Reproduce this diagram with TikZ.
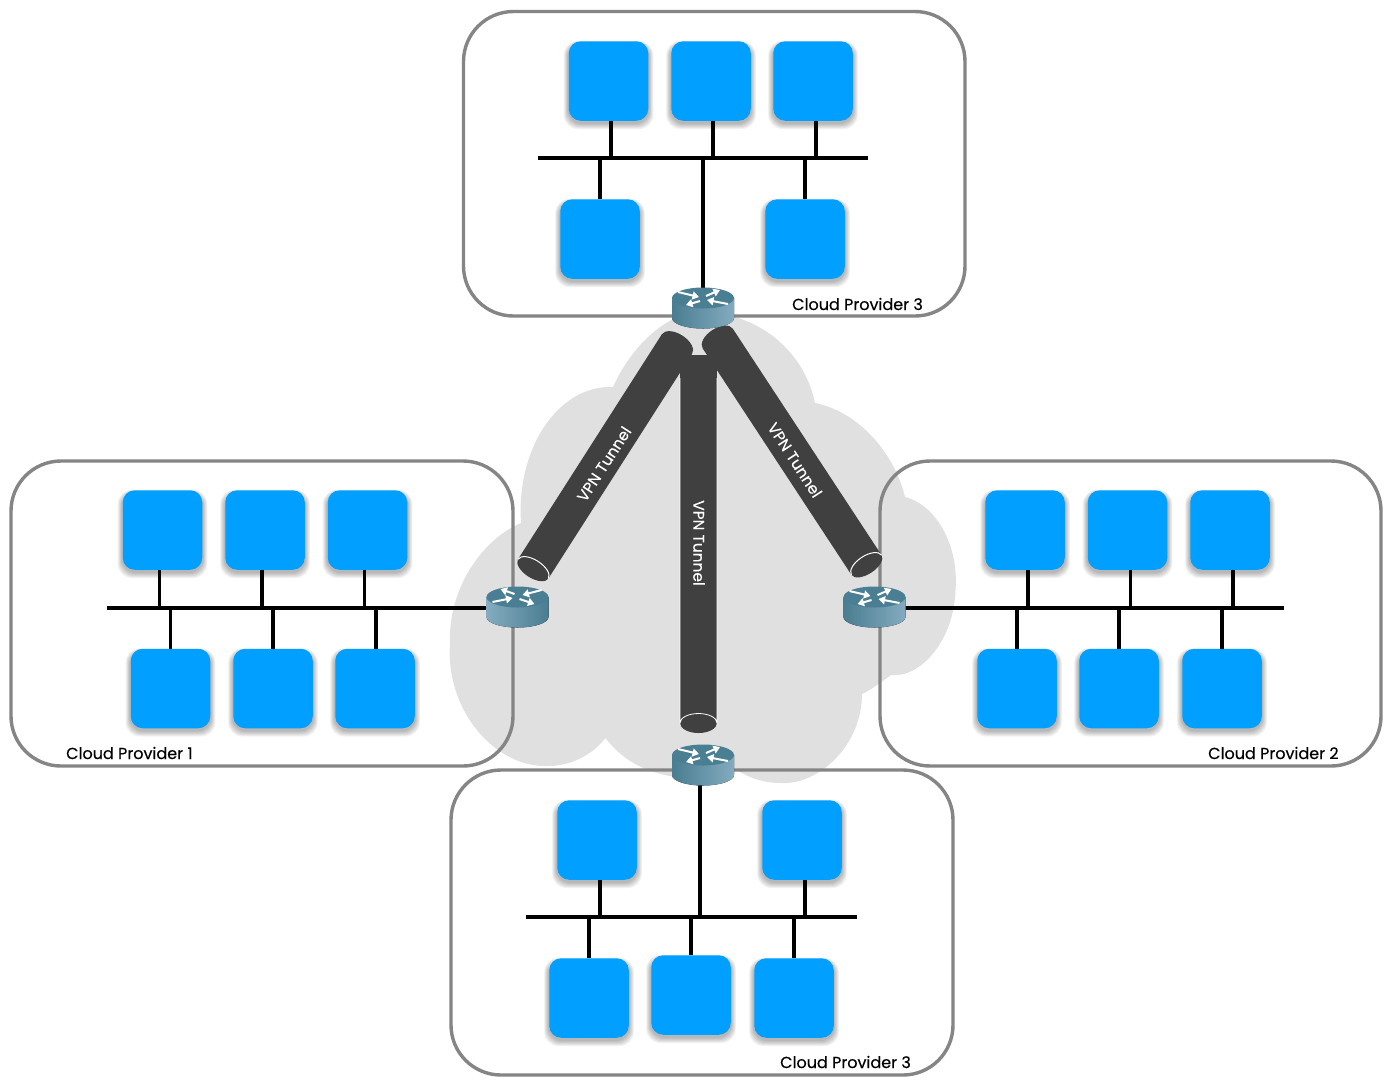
\documentclass[tikz,border=0pt]{standalone}
\usepackage{fontspec}
\setmainfont[FakeBold=0.25]{Poppins}
\usetikzlibrary{arrows.meta,calc}
\definecolor{boxblue}{HTML}{019FFF}
\definecolor{rimgray}{HTML}{858585}
\definecolor{cloudgray}{HTML}{E0E0E0}
\definecolor{tunnel}{HTML}{404040}
\definecolor{rtop}{HTML}{4A7F93}
\definecolor{rdark}{HTML}{4A7D91}
\definecolor{rlight}{HTML}{84ABBF}
\tikzset{
  x=1pt,y=-1pt,
  site/.style={draw=rimgray,line width=3.4pt,rounded corners=50pt,fill=none},
  host/.style={fill=boxblue,rounded corners=12pt,minimum width=79.5pt,minimum height=79.5pt,inner sep=0pt},
  hostshadow/.style={fill=black,opacity=0.05},
  wire/.style={draw=black,line width=3.4pt},
  sitelabel/.style={font=\fontsize{16}{19}\selectfont,text=black,inner sep=0pt},
  tunneltxt/.style={font=\fontsize{15.4}{18}\selectfont,text=white,inner sep=0pt},
  rarrow/.style={draw=white,line width=2pt,-{Triangle[width=8pt,length=6.5pt]}},
}
\newcommand{\routerdraw}[5]{%
  \begin{scope}[shift={(#2,#3)}]
    \fill[left color=#4,right color=#5] (-31,0) -- (-31,20) arc[start angle=180,end angle=360,x radius=31pt,y radius=10.5pt] -- (31,0) -- cycle;
    \fill[rtop] (0,0) ellipse[x radius=31pt,y radius=10.5pt];
  \end{scope}}
\newcommand{\arrowsA}[2]{%
  \begin{scope}[shift={(#1,#2)}]
    \draw[rarrow] (-3,-3) -- (-17,-8);
    \draw[rarrow] (24,-7) -- (5,-2);
    \draw[rarrow] (-25,5) -- (-5,1);
    \draw[rarrow] (2,2) -- (17,7);
  \end{scope}}
\newcommand{\arrowsB}[2]{%
  \begin{scope}[shift={(#1,#2)}]
    \draw[rarrow] (-25,-6) -- (-4,-1);
    \draw[rarrow] (3,-2) -- (17,-8);
    \draw[rarrow] (25,6) -- (4,2);
    \draw[rarrow] (-3,3) -- (-17,7);
  \end{scope}}
% angled tunnel: x, y of the domed end; direction; length
\newcommand{\tube}[4]{%
  \begin{scope}[shift={(#1,#2)},rotate=#3]
    \fill[tunnel] (0pt,-18pt) -- (#4pt,-18pt) arc[start angle=-90,end angle=90,x radius=9pt,y radius=18pt] -- (0pt,18pt) arc[start angle=90,end angle=270,x radius=10pt,y radius=18pt] -- cycle;
    \draw[white,line width=1pt] (#4pt,-18pt) arc[start angle=-90,end angle=-270,x radius=9pt,y radius=18pt];
  \end{scope}}
\newcommand{\hostlist}{ta/608.5/81,tb/711/81,tc/813/81,td/600/239,te/805/239,la/162.5/530,lb/265/530,lc/367.5/530,ld/170.5/688.5,le/273/688.5,lf/375/688.5,ra/1025/530,rb/1127.5/530,rc/1230/530,rd/1017/688.5,re/1119/688.5,rf/1222/688.5,ba/597/840,bb/802/840,bc/589/998,bd/691/995,be/794/998}
\begin{document}
\begin{tikzpicture}
\useasboundingbox (0,0) rectangle (1400,1088);
\fill[white] (0,0) rectangle (1400,1088);
% cloud
\fill[cloudgray] (613,387)
  .. controls (632,345) and (667,313) .. (700,312)
  .. controls (757,312) and (804,350) .. (815,403)
  .. controls (860,412) and (895,455) .. (905,497)
  .. controls (936,505) and (959,545) .. (955.5,590)
  .. controls (954,640) and (921,678) .. (891,675)
  .. controls (881,682) and (871,690) .. (862,694)
  .. controls (862,745) and (819,785) .. (781,783)
  .. controls (764,783) and (749,778) .. (737,770)
  .. controls (694,785) and (637,780) .. (605.5,738)
  .. controls (592,755) and (571,766) .. (548,766)
  .. controls (495,768) and (445,710) .. (450,643)
  .. controls (448,590) and (481,540) .. (521,523)
  .. controls (516,450) and (557,385) .. (613,387) -- cycle;
% sites
\draw[site] (463.5,11.5) rectangle (965,316);
\draw[site] (11,461) rectangle (513,766);
\draw[site] (880,461) rectangle (1381,766);
\draw[site] (451,770) rectangle (953,1075);
% hosts with their soft shadows
\foreach \nm/\hx/\hy in \hostlist {
  \foreach \s in {1,2,3,4,5,6}
    \fill[hostshadow,rounded corners=14pt] (\hx-40-\s*0.8,\hy-37-\s*0.5) rectangle (\hx+40+\s*0.8,\hy+42+\s);
  \node[host] (\nm) at (\hx,\hy) {};
}
% bus ends and router centres
\coordinate (busTa) at (538,158);  \coordinate (busTb) at (868,158);
\coordinate (busLa) at (107,608);  \coordinate (busRb) at (1284,608);
\coordinate (busBa) at (526,917);  \coordinate (busBb) at (857,917);
\coordinate (rtc) at (703,298);
\coordinate (rlc) at (517.5,608);
\coordinate (rrc) at (874.5,608);
\coordinate (rbc) at (700,770);
% wires
\draw[wire] (busTa) -- (busTb);
\draw[wire] (busLa) -- (rlc);
\draw[wire] (rrc) -- (busRb);
\draw[wire] (busBa) -- (busBb);
\foreach \h/\d in {ta/2.5,tb/2,tc/3} \draw[wire] ([xshift=\d pt]\h.south) -- ([xshift=\d pt]\h.south |- busTa);
\foreach \h/\d in {td/0,te/0} \draw[wire] ([xshift=\d pt]\h.north) -- ([xshift=\d pt]\h.north |- busTa);
\draw[wire] (rtc) -- (rtc |- busTa);
\foreach \h/\d in {la/-3,lb/-3,lc/-3} \draw[wire] ([xshift=\d pt]\h.south) -- ([xshift=\d pt]\h.south |- busLa);
\foreach \h/\d in {ld/0,le/0,lf/1} \draw[wire] ([xshift=\d pt]\h.north) -- ([xshift=\d pt]\h.north |- busLa);
\foreach \h/\d in {ra/3,rb/3,rc/3} \draw[wire] ([xshift=\d pt]\h.south) -- ([xshift=\d pt]\h.south |- rrc);
\foreach \h/\d in {rd/0,re/0,rf/0} \draw[wire] ([xshift=\d pt]\h.north) -- ([xshift=\d pt]\h.north |- rrc);
\foreach \h/\d in {ba/3,bb/3} \draw[wire] ([xshift=\d pt]\h.south) -- ([xshift=\d pt]\h.south |- busBa);
\foreach \h/\d in {bc/0,bd/0,be/0} \draw[wire] ([xshift=\d pt]\h.north) -- ([xshift=\d pt]\h.north |- busBa);
\draw[wire] (rbc) -- (rbc |- busBa);
% tunnels
\tube{677}{344}{-122.6}{267}
\tube{717.7}{338.5}{-56.7}{271}
\fill[tunnel] (680,355) rectangle (717,723);
\fill[tunnel] (698.5,723) ellipse[x radius=18.5pt,y radius=10pt];
\draw[white,line width=0.8pt] (680,378) -- (680,723) arc[start angle=180,end angle=0,x radius=18.5pt,y radius=9.5pt] -- (717,378);
\node[tunneltxt,rotate=57] (t1) at (604,464) {VPN Tunnel};
\node[tunneltxt,rotate=-90] (t2) at (699,543) {VPN Tunnel};
\node[tunneltxt,rotate=-57] (t3) at (795,460) {VPN Tunnel};
% routers
\routerdraw{rt}{703}{298}{rdark}{rlight}
\routerdraw{rl}{517.5}{597}{rlight}{rdark}
\routerdraw{rr}{874.5}{597}{rdark}{rlight}
\routerdraw{rb}{703}{755}{rdark}{rlight}
\arrowsB{703}{298}
\arrowsA{517.5}{597}
\arrowsB{874.5}{597}
\arrowsB{703}{755}
% labels
\node[sitelabel,anchor=west] (l1) at (66,753) {Cloud Provider 1};
\node[sitelabel,anchor=west] (l2) at (1208,753) {Cloud Provider 2};
\node[sitelabel,anchor=west] (l3) at (792,304) {Cloud Provider 3};
\node[sitelabel,anchor=west] (l4) at (780,1062) {Cloud Provider 3};
\end{tikzpicture}
\end{document}
